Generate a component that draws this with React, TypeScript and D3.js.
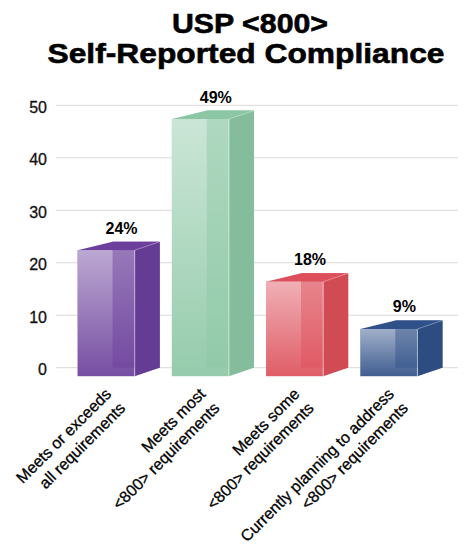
import React from 'react';
import * as d3 from 'd3';

const titleLines = ['USP <800>', 'Self-Reported Compliance'];
const categoryKeys = ['exceeds', 'most', 'some', 'planning'];
const categoryLines = [
  ['Meets or exceeds', 'all requirements'],
  ['Meets most', '<800> requirements'],
  ['Meets some', '<800> requirements'],
  ['Currently planning to address', '<800> requirements'],
];
const values = [24, 49, 18, 9];
const valueLabels = ['24%', '49%', '18%', '9%'];
const barColors = ['#6b3f9b', '#8cc7a5', '#dd4f5a', '#2f5088'];
const yTicks = [0, 10, 20, 30, 40, 50];

const W = 471;
const H = 548;
const FONT = '"Liberation Sans", Arial, Helvetica, sans-serif';

// back face = band, front face is shifted down-left and a bit wider
const LEFT_SHIFT = 35;
const RIGHT_SHIFT = 25;
const DROP = 8.5;

export default function App() {
  const x = d3.scaleBand<string>()
    .domain(categoryKeys)
    .range([89, 466])
    .paddingInner(0.5)
    .paddingOuter(0.25);

  const y = d3.scaleLinear().domain([0, 50]).range([367.7, 105.3]);
  const y0 = y(0);
  const bw = x.bandwidth();

  return (
    <svg width={W} height={H} style={{ position: 'absolute', left: 0, top: 0, background: '#fff' }}>
      <defs>
        <linearGradient id="shine" x1="0" y1="0" x2="0" y2="1">
          <stop offset="0" stopColor="#fff" stopOpacity={0.55} />
          <stop offset="1" stopColor="#fff" stopOpacity={0.08} />
        </linearGradient>
      </defs>

      {/* title, stroked a little to get closer to a black weight */}
      <text x={250} y={33} textAnchor="middle" fontFamily={FONT} fontWeight="bold" fontSize={28}
        textLength={156} lengthAdjust="spacingAndGlyphs" fill="#000" stroke="#000" strokeWidth={0.6}>{titleLines[0]}</text>
      <text x={246} y={62.5} textAnchor="middle" fontFamily={FONT} fontWeight="bold" fontSize={28}
        textLength={397} lengthAdjust="spacingAndGlyphs" fill="#000" stroke="#000" strokeWidth={0.6}>{titleLines[1]}</text>

      {/* grid + y ticks */}
      {yTicks.map(t => (
        <g key={t}>
          <line x1={56} x2={458} y1={y(t)} y2={y(t)} stroke="#d9d9d9" strokeWidth={1} />
          <text x={47} y={y(t) + 7.5} textAnchor="end" fontFamily={FONT} fontSize={16} fill="#111"
            stroke="#111" strokeWidth={0.3}>{t}</text>
        </g>
      ))}

      {/* bars */}
      {categoryKeys.map((k, i) => {
        const c = barColors[i];
        const bx = x(k) as number;
        const by = y(values[i]);
        const fx = bx - LEFT_SHIFT;
        const fw = bw + LEFT_SHIFT - RIGHT_SHIFT;
        const fy = by + DROP;
        const fb = y0 + DROP;
        const side = d3.color(c)!.darker(0.15).formatHex();
        return (
          <g key={k}>
            <rect x={bx} y={by} width={bw} height={y0 - by} fill={c} />
            <polygon
              points={`${fx + fw},${fy} ${bx + bw},${by} ${bx + bw},${y0} ${fx + fw},${fb}`}
              fill={side} />
            <polygon
              points={`${fx},${fy} ${bx},${by} ${bx + bw},${by} ${fx + fw},${fy}`}
              fill={c} />
            <rect x={fx} y={fy} width={fw} height={fb - fy} fill={c} />
            <rect x={fx} y={fy} width={fw} height={fb - fy} fill="url(#shine)" />
            <rect x={bx} y={fy} width={fx + fw - bx} height={y0 - fy} fill={c} opacity={0.45} />
            <line x1={fx + fw} x2={fx + fw} y1={fy} y2={fb} stroke="#fff" strokeOpacity={0.55} />
            <line x1={fx + fw} x2={bx + bw} y1={fy} y2={by} stroke="#fff" strokeOpacity={0.35} />
            <text x={bx + 9} y={by - 8} textAnchor="middle" fontFamily={FONT} fontWeight="bold"
              fontSize={16} fill="#000">{valueLabels[i]}</text>
            <g transform={`translate(${fx + fw / 2 + 6},395) rotate(-45)`}>
              {categoryLines[i].map((ln, j) => (
                <text key={j} x={0} y={j * 20} textAnchor="end" fontFamily={FONT} fontSize={16}
                  fill="#000" stroke="#000" strokeWidth={0.3}>{ln}</text>
              ))}
            </g>
          </g>
        );
      })}
    </svg>
  );
}
